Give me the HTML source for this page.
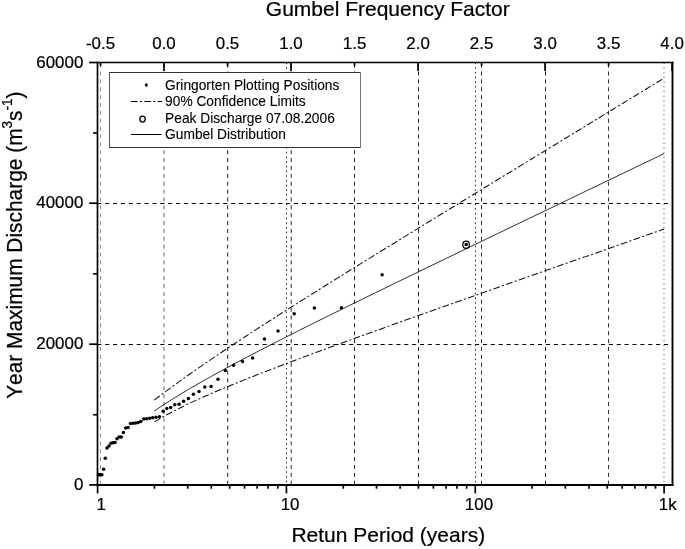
<!DOCTYPE html>
<html><head><meta charset="utf-8"><style>
html,body{margin:0;padding:0;background:#fff;}
body{width:685px;height:549px;overflow:hidden;}
svg{display:block;}
</style></head><body>
<svg width="685" height="549" viewBox="0 0 685 549" font-family="Liberation Sans, Arial, sans-serif">
<style>text{stroke:#000;stroke-width:0.22px;}</style>
<rect width="685" height="549" fill="#fff"/>
<line x1="100.50" y1="62.5" x2="100.50" y2="484.9" stroke="#8c8c8c" stroke-width="1" stroke-dasharray="4.1 3.77" stroke-dashoffset="-1.1"/>
<line x1="164.00" y1="62.5" x2="164.00" y2="484.9" stroke="#666" stroke-width="1" stroke-dasharray="4.1 3.77" stroke-dashoffset="-1.1"/>
<line x1="227.70" y1="62.5" x2="227.70" y2="484.9" stroke="#222" stroke-width="1" stroke-dasharray="4.1 3.77" stroke-dashoffset="-1.1"/>
<line x1="291.20" y1="62.5" x2="291.20" y2="484.9" stroke="#2a2a2a" stroke-width="1" stroke-dasharray="4.1 3.77" stroke-dashoffset="-1.1"/>
<line x1="354.50" y1="62.5" x2="354.50" y2="484.9" stroke="#2a2a2a" stroke-width="1" stroke-dasharray="4.1 3.77" stroke-dashoffset="-1.1"/>
<line x1="418.50" y1="62.5" x2="418.50" y2="484.9" stroke="#222" stroke-width="1" stroke-dasharray="4.1 3.77" stroke-dashoffset="-1.1"/>
<line x1="481.50" y1="62.5" x2="481.50" y2="484.9" stroke="#333" stroke-width="1" stroke-dasharray="4.1 3.77" stroke-dashoffset="-1.1"/>
<line x1="545.50" y1="62.5" x2="545.50" y2="484.9" stroke="#222" stroke-width="1" stroke-dasharray="4.1 3.77" stroke-dashoffset="-1.1"/>
<line x1="608.50" y1="62.5" x2="608.50" y2="484.9" stroke="#333" stroke-width="1" stroke-dasharray="4.1 3.77" stroke-dashoffset="-1.1"/>
<line x1="286.50" y1="62.5" x2="286.50" y2="484.9" stroke="#222" stroke-width="1" stroke-dasharray="1.5 3.2"/>
<line x1="475.50" y1="62.5" x2="475.50" y2="484.9" stroke="#222" stroke-width="1" stroke-dasharray="1.5 3.2"/>
<line x1="664.00" y1="62.5" x2="664.00" y2="484.9" stroke="#777" stroke-width="1" stroke-dasharray="1.5 3.2"/>
<line x1="97.3" y1="203.5" x2="668" y2="203.5" stroke="#000" stroke-width="1" stroke-dasharray="4.1 3.77"/>
<line x1="97.3" y1="344.5" x2="668" y2="344.5" stroke="#000" stroke-width="1" stroke-dasharray="4.1 3.77"/>
<polyline points="154.44,410.98 156.57,409.52 158.69,408.08 160.81,406.66 162.94,405.25 165.06,403.87 167.18,402.49 169.31,401.14 171.43,399.79 173.56,398.46 175.68,397.14 177.80,395.83 179.93,394.54 182.05,393.25 184.17,391.97 186.30,390.71 188.42,389.45 190.54,388.20 192.67,386.96 194.79,385.73 196.91,384.50 199.04,383.28 201.16,382.07 203.28,380.86 205.41,379.66 207.53,378.47 209.66,377.28 211.78,376.10 213.90,374.92 216.03,373.75 218.15,372.59 220.27,371.42 222.40,370.27 224.52,369.11 226.64,367.96 228.77,366.82 230.89,365.68 233.01,364.54 235.14,363.41 237.26,362.28 239.38,361.15 241.51,360.03 243.63,358.90 245.76,357.79 247.88,356.67 250.00,355.56 252.13,354.45 254.25,353.35 256.37,352.24 258.50,351.14 260.62,350.04 262.74,348.94 264.87,347.85 266.99,346.76 269.11,345.67 271.24,344.58 273.36,343.49 275.48,342.41 277.61,341.33 279.73,340.25 281.86,339.17 283.98,338.09 286.10,337.01 288.23,335.94 290.35,334.87 292.47,333.80 294.60,332.73 296.72,331.66 298.84,330.59 300.97,329.53 303.09,328.46 305.21,327.40 307.34,326.34 309.46,325.28 311.58,324.22 313.71,323.16 315.83,322.10 317.96,321.05 320.08,319.99 322.20,318.94 324.33,317.88 326.45,316.83 328.57,315.78 330.70,314.73 332.82,313.68 334.94,312.63 337.07,311.58 339.19,310.53 341.31,309.49 343.44,308.44 345.56,307.40 347.68,306.35 349.81,305.31 351.93,304.27 354.06,303.22 356.18,302.18 358.30,301.14 360.43,300.10 362.55,299.06 364.67,298.02 366.80,296.98 368.92,295.94 371.04,294.90 373.17,293.87 375.29,292.83 377.41,291.79 379.54,290.76 381.66,289.72 383.78,288.69 385.91,287.65 388.03,286.62 390.16,285.58 392.28,284.55 394.40,283.52 396.53,282.49 398.65,281.45 400.77,280.42 402.90,279.39 405.02,278.36 407.14,277.33 409.27,276.30 411.39,275.27 413.51,274.24 415.64,273.21 417.76,272.18 419.88,271.15 422.01,270.12 424.13,269.09 426.25,268.06 428.38,267.03 430.50,266.00 432.63,264.98 434.75,263.95 436.87,262.92 439.00,261.90 441.12,260.87 443.24,259.84 445.37,258.82 447.49,257.79 449.61,256.76 451.74,255.74 453.86,254.71 455.98,253.69 458.11,252.66 460.23,251.64 462.35,250.61 464.48,249.59 466.60,248.56 468.73,247.54 470.85,246.51 472.97,245.49 475.10,244.46 477.22,243.44 479.34,242.42 481.47,241.39 483.59,240.37 485.71,239.34 487.84,238.32 489.96,237.30 492.08,236.27 494.21,235.25 496.33,234.23 498.45,233.21 500.58,232.18 502.70,231.16 504.83,230.14 506.95,229.12 509.07,228.09 511.20,227.07 513.32,226.05 515.44,225.03 517.57,224.00 519.69,222.98 521.81,221.96 523.94,220.94 526.06,219.92 528.18,218.90 530.31,217.87 532.43,216.85 534.55,215.83 536.68,214.81 538.80,213.79 540.93,212.77 543.05,211.75 545.17,210.72 547.30,209.70 549.42,208.68 551.54,207.66 553.67,206.64 555.79,205.62 557.91,204.60 560.04,203.58 562.16,202.56 564.28,201.54 566.41,200.52 568.53,199.50 570.65,198.47 572.78,197.45 574.90,196.43 577.03,195.41 579.15,194.39 581.27,193.37 583.40,192.35 585.52,191.33 587.64,190.31 589.77,189.29 591.89,188.27 594.01,187.25 596.14,186.23 598.26,185.21 600.38,184.19 602.51,183.17 604.63,182.15 606.75,181.13 608.88,180.11 611.00,179.09 613.13,178.07 615.25,177.05 617.37,176.03 619.50,175.01 621.62,173.99 623.74,172.97 625.87,171.95 627.99,170.93 630.11,169.91 632.24,168.89 634.36,167.87 636.48,166.85 638.61,165.83 640.73,164.81 642.85,163.79 644.98,162.78 647.10,161.76 649.23,160.74 651.35,159.72 653.47,158.70 655.60,157.68 657.72,156.66 659.84,155.64 661.97,154.62 664.09,153.60" fill="none" stroke="#1a1a1a" stroke-width="0.95"/>
<polyline points="154.44,400.03 156.57,398.40 158.69,396.78 160.81,395.17 162.94,393.58 165.06,391.99 167.18,390.41 169.31,388.84 171.43,387.27 173.56,385.72 175.68,384.17 177.80,382.63 179.93,381.10 182.05,379.58 184.17,378.06 186.30,376.55 188.42,375.05 190.54,373.55 192.67,372.06 194.79,370.57 196.91,369.09 199.04,367.62 201.16,366.15 203.28,364.69 205.41,363.23 207.53,361.78 209.66,360.33 211.78,358.88 213.90,357.44 216.03,356.01 218.15,354.57 220.27,353.15 222.40,351.72 224.52,350.30 226.64,348.89 228.77,347.48 230.89,346.07 233.01,344.66 235.14,343.26 237.26,341.86 239.38,340.46 241.51,339.07 243.63,337.68 245.76,336.29 247.88,334.91 250.00,333.53 252.13,332.15 254.25,330.77 256.37,329.39 258.50,328.02 260.62,326.65 262.74,325.28 264.87,323.92 266.99,322.55 269.11,321.19 271.24,319.83 273.36,318.47 275.48,317.12 277.61,315.76 279.73,314.41 281.86,313.06 283.98,311.71 286.10,310.36 288.23,309.01 290.35,307.67 292.47,306.33 294.60,304.98 296.72,303.64 298.84,302.30 300.97,300.97 303.09,299.63 305.21,298.29 307.34,296.96 309.46,295.63 311.58,294.29 313.71,292.96 315.83,291.63 317.96,290.30 320.08,288.97 322.20,287.65 324.33,286.32 326.45,285.00 328.57,283.67 330.70,282.35 332.82,281.03 334.94,279.70 337.07,278.38 339.19,277.06 341.31,275.74 343.44,274.42 345.56,273.10 347.68,271.79 349.81,270.47 351.93,269.15 354.06,267.84 356.18,266.52 358.30,265.21 360.43,263.89 362.55,262.58 364.67,261.27 366.80,259.96 368.92,258.64 371.04,257.33 373.17,256.02 375.29,254.71 377.41,253.40 379.54,252.09 381.66,250.78 383.78,249.48 385.91,248.17 388.03,246.86 390.16,245.55 392.28,244.25 394.40,242.94 396.53,241.63 398.65,240.33 400.77,239.02 402.90,237.72 405.02,236.41 407.14,235.11 409.27,233.80 411.39,232.50 413.51,231.19 415.64,229.89 417.76,228.59 419.88,227.28 422.01,225.98 424.13,224.68 426.25,223.37 428.38,222.07 430.50,220.77 432.63,219.47 434.75,218.17 436.87,216.87 439.00,215.57 441.12,214.26 443.24,212.96 445.37,211.66 447.49,210.36 449.61,209.06 451.74,207.76 453.86,206.46 455.98,205.16 458.11,203.86 460.23,202.56 462.35,201.26 464.48,199.96 466.60,198.67 468.73,197.37 470.85,196.07 472.97,194.77 475.10,193.47 477.22,192.17 479.34,190.87 481.47,189.58 483.59,188.28 485.71,186.98 487.84,185.68 489.96,184.38 492.08,183.09 494.21,181.79 496.33,180.49 498.45,179.19 500.58,177.90 502.70,176.60 504.83,175.30 506.95,174.00 509.07,172.71 511.20,171.41 513.32,170.11 515.44,168.82 517.57,167.52 519.69,166.22 521.81,164.92 523.94,163.63 526.06,162.33 528.18,161.03 530.31,159.74 532.43,158.44 534.55,157.15 536.68,155.85 538.80,154.55 540.93,153.26 543.05,151.96 545.17,150.66 547.30,149.37 549.42,148.07 551.54,146.77 553.67,145.48 555.79,144.18 557.91,142.89 560.04,141.59 562.16,140.29 564.28,139.00 566.41,137.70 568.53,136.41 570.65,135.11 572.78,133.81 574.90,132.52 577.03,131.22 579.15,129.93 581.27,128.63 583.40,127.33 585.52,126.04 587.64,124.74 589.77,123.45 591.89,122.15 594.01,120.86 596.14,119.56 598.26,118.26 600.38,116.97 602.51,115.67 604.63,114.38 606.75,113.08 608.88,111.79 611.00,110.49 613.13,109.19 615.25,107.90 617.37,106.60 619.50,105.31 621.62,104.01 623.74,102.72 625.87,101.42 627.99,100.13 630.11,98.83 632.24,97.53 634.36,96.24 636.48,94.94 638.61,93.65 640.73,92.35 642.85,91.06 644.98,89.76 647.10,88.46 649.23,87.17 651.35,85.87 653.47,84.58 655.60,83.28 657.72,81.99 659.84,80.69 661.97,79.40 664.09,78.10" fill="none" stroke="#111" stroke-width="1.05" stroke-dasharray="6.77 2.32 2.01 2.4"/>
<polyline points="154.44,421.92 156.57,420.63 158.69,419.37 160.81,418.14 162.94,416.93 165.06,415.74 167.18,414.58 169.31,413.43 171.43,412.31 173.56,411.20 175.68,410.11 177.80,409.03 179.93,407.97 182.05,406.92 184.17,405.89 186.30,404.86 188.42,403.85 190.54,402.85 192.67,401.86 194.79,400.88 196.91,399.90 199.04,398.94 201.16,397.99 203.28,397.04 205.41,396.10 207.53,395.17 209.66,394.24 211.78,393.32 213.90,392.41 216.03,391.50 218.15,390.60 220.27,389.70 222.40,388.81 224.52,387.92 226.64,387.04 228.77,386.16 230.89,385.29 233.01,384.42 235.14,383.55 237.26,382.69 239.38,381.83 241.51,380.98 243.63,380.13 245.76,379.28 247.88,378.44 250.00,377.60 252.13,376.76 254.25,375.92 256.37,375.09 258.50,374.26 260.62,373.43 262.74,372.61 264.87,371.78 266.99,370.96 269.11,370.14 271.24,369.33 273.36,368.51 275.48,367.70 277.61,366.89 279.73,366.08 281.86,365.28 283.98,364.47 286.10,363.67 288.23,362.87 290.35,362.07 292.47,361.27 294.60,360.47 296.72,359.67 298.84,358.88 300.97,358.09 303.09,357.30 305.21,356.51 307.34,355.72 309.46,354.93 311.58,354.14 313.71,353.36 315.83,352.57 317.96,351.79 320.08,351.01 322.20,350.22 324.33,349.44 326.45,348.67 328.57,347.89 330.70,347.11 332.82,346.33 334.94,345.56 337.07,344.78 339.19,344.01 341.31,343.23 343.44,342.46 345.56,341.69 347.68,340.92 349.81,340.15 351.93,339.38 354.06,338.61 356.18,337.84 358.30,337.07 360.43,336.30 362.55,335.54 364.67,334.77 366.80,334.01 368.92,333.24 371.04,332.48 373.17,331.71 375.29,330.95 377.41,330.19 379.54,329.42 381.66,328.66 383.78,327.90 385.91,327.14 388.03,326.38 390.16,325.62 392.28,324.86 394.40,324.10 396.53,323.34 398.65,322.58 400.77,321.82 402.90,321.06 405.02,320.31 407.14,319.55 409.27,318.79 411.39,318.04 413.51,317.28 415.64,316.52 417.76,315.77 419.88,315.01 422.01,314.26 424.13,313.50 426.25,312.75 428.38,311.99 430.50,311.24 432.63,310.49 434.75,309.73 436.87,308.98 439.00,308.23 441.12,307.47 443.24,306.72 445.37,305.97 447.49,305.22 449.61,304.46 451.74,303.71 453.86,302.96 455.98,302.21 458.11,301.46 460.23,300.71 462.35,299.96 464.48,299.21 466.60,298.46 468.73,297.71 470.85,296.96 472.97,296.21 475.10,295.46 477.22,294.71 479.34,293.96 481.47,293.21 483.59,292.46 485.71,291.71 487.84,290.96 489.96,290.21 492.08,289.46 494.21,288.71 496.33,287.97 498.45,287.22 500.58,286.47 502.70,285.72 504.83,284.97 506.95,284.23 509.07,283.48 511.20,282.73 513.32,281.98 515.44,281.24 517.57,280.49 519.69,279.74 521.81,279.00 523.94,278.25 526.06,277.50 528.18,276.76 530.31,276.01 532.43,275.26 534.55,274.52 536.68,273.77 538.80,273.02 540.93,272.28 543.05,271.53 545.17,270.79 547.30,270.04 549.42,269.29 551.54,268.55 553.67,267.80 555.79,267.06 557.91,266.31 560.04,265.57 562.16,264.82 564.28,264.07 566.41,263.33 568.53,262.58 570.65,261.84 572.78,261.09 574.90,260.35 577.03,259.60 579.15,258.86 581.27,258.11 583.40,257.37 585.52,256.62 587.64,255.88 589.77,255.14 591.89,254.39 594.01,253.65 596.14,252.90 598.26,252.16 600.38,251.41 602.51,250.67 604.63,249.92 606.75,249.18 608.88,248.44 611.00,247.69 613.13,246.95 615.25,246.20 617.37,245.46 619.50,244.72 621.62,243.97 623.74,243.23 625.87,242.48 627.99,241.74 630.11,241.00 632.24,240.25 634.36,239.51 636.48,238.76 638.61,238.02 640.73,237.28 642.85,236.53 644.98,235.79 647.10,235.05 649.23,234.30 651.35,233.56 653.47,232.82 655.60,232.07 657.72,231.33 659.84,230.59 661.97,229.84 664.09,229.10" fill="none" stroke="#111" stroke-width="1.05" stroke-dasharray="6.77 2.32 2.01 2.4"/>
<circle cx="466.2" cy="244.5" r="1.75" fill="#000"/>
<circle cx="382.1" cy="274.8" r="1.75" fill="#000"/>
<circle cx="341.5" cy="307.7" r="1.75" fill="#000"/>
<circle cx="314.4" cy="307.9" r="1.75" fill="#000"/>
<circle cx="294.2" cy="313.8" r="1.75" fill="#000"/>
<circle cx="278.0" cy="331.1" r="1.75" fill="#000"/>
<circle cx="264.5" cy="338.9" r="1.75" fill="#000"/>
<circle cx="252.6" cy="358" r="1.75" fill="#000"/>
<circle cx="242.5" cy="361.5" r="1.75" fill="#000"/>
<circle cx="233.5" cy="365.3" r="1.75" fill="#000"/>
<circle cx="225.3" cy="370.5" r="1.75" fill="#000"/>
<circle cx="218.0" cy="379.3" r="1.75" fill="#000"/>
<circle cx="211.1" cy="386.4" r="1.75" fill="#000"/>
<circle cx="204.8" cy="386.9" r="1.75" fill="#000"/>
<circle cx="199.0" cy="391.6" r="1.75" fill="#000"/>
<circle cx="193.4" cy="394.2" r="1.75" fill="#000"/>
<circle cx="188.4" cy="398.4" r="1.75" fill="#000"/>
<circle cx="183.6" cy="401.3" r="1.75" fill="#000"/>
<circle cx="179.1" cy="404.2" r="1.75" fill="#000"/>
<circle cx="174.8" cy="404.8" r="1.75" fill="#000"/>
<circle cx="170.7" cy="407.4" r="1.75" fill="#000"/>
<circle cx="166.8" cy="408.5" r="1.75" fill="#000"/>
<circle cx="163.2" cy="411.3" r="1.75" fill="#000"/>
<circle cx="159.4" cy="416.7" r="1.75" fill="#000"/>
<circle cx="156.0" cy="417.2" r="1.75" fill="#000"/>
<circle cx="152.7" cy="417.7" r="1.75" fill="#000"/>
<circle cx="149.6" cy="418.2" r="1.75" fill="#000"/>
<circle cx="146.5" cy="418.8" r="1.75" fill="#000"/>
<circle cx="143.8" cy="418.9" r="1.75" fill="#000"/>
<circle cx="140.8" cy="421.5" r="1.75" fill="#000"/>
<circle cx="138.2" cy="422.5" r="1.75" fill="#000"/>
<circle cx="135.6" cy="423.0" r="1.75" fill="#000"/>
<circle cx="133.1" cy="423.3" r="1.75" fill="#000"/>
<circle cx="130.5" cy="423.6" r="1.75" fill="#000"/>
<circle cx="128.1" cy="427.4" r="1.75" fill="#000"/>
<circle cx="125.7" cy="427.9" r="1.75" fill="#000"/>
<circle cx="123.4" cy="432.4" r="1.75" fill="#000"/>
<circle cx="121.3" cy="437.1" r="1.75" fill="#000"/>
<circle cx="119.1" cy="437.1" r="1.75" fill="#000"/>
<circle cx="117.0" cy="438.8" r="1.75" fill="#000"/>
<circle cx="115.0" cy="442.4" r="1.75" fill="#000"/>
<circle cx="113.0" cy="442.8" r="1.75" fill="#000"/>
<circle cx="111.0" cy="443.3" r="1.75" fill="#000"/>
<circle cx="109.0" cy="445.9" r="1.75" fill="#000"/>
<circle cx="107.0" cy="448" r="1.75" fill="#000"/>
<circle cx="105.3" cy="458.2" r="1.75" fill="#000"/>
<circle cx="103.6" cy="469.2" r="1.75" fill="#000"/>
<circle cx="101.9" cy="474.8" r="1.75" fill="#000"/>
<circle cx="100.2" cy="474.8" r="1.75" fill="#000"/>
<circle cx="98.6" cy="474.8" r="1.75" fill="#000"/>
<ellipse cx="466.1" cy="244.7" rx="3.3" ry="3.6" fill="none" stroke="#000" stroke-width="1.25"/>
<line x1="97.5" y1="61.7" x2="97.5" y2="485.9" stroke="#000" stroke-width="1.7"/>
<line x1="672.5" y1="61.7" x2="672.5" y2="485.9" stroke="#000" stroke-width="1.9"/>
<line x1="97.5" y1="62.5" x2="673.4" y2="62.5" stroke="#000" stroke-width="1.7"/>
<line x1="97.5" y1="484.9" x2="673.4" y2="484.9" stroke="#000" stroke-width="2"/>
<line x1="89.2" y1="484.9" x2="97.5" y2="484.9" stroke="#000" stroke-width="1.7"/>
<line x1="89.2" y1="344.2" x2="97.5" y2="344.2" stroke="#000" stroke-width="1.7"/>
<line x1="89.2" y1="203.2" x2="97.5" y2="203.2" stroke="#000" stroke-width="1.7"/>
<line x1="89.2" y1="62.5" x2="97.5" y2="62.5" stroke="#000" stroke-width="1.7"/>
<line x1="93.1" y1="414.75" x2="97.5" y2="414.75" stroke="#000" stroke-width="1.7"/>
<line x1="93.1" y1="273.85" x2="97.5" y2="273.85" stroke="#000" stroke-width="1.7"/>
<line x1="93.1" y1="132.95" x2="97.5" y2="132.95" stroke="#000" stroke-width="1.7"/>
<line x1="97.60" y1="484.9" x2="97.60" y2="493.40" stroke="#000" stroke-width="1.7"/>
<line x1="154.44" y1="484.9" x2="154.44" y2="488.70" stroke="#000" stroke-width="1.7"/>
<line x1="187.69" y1="484.9" x2="187.69" y2="488.70" stroke="#000" stroke-width="1.7"/>
<line x1="211.29" y1="484.9" x2="211.29" y2="488.70" stroke="#000" stroke-width="1.7"/>
<line x1="229.59" y1="484.9" x2="229.59" y2="488.70" stroke="#000" stroke-width="1.7"/>
<line x1="244.54" y1="484.9" x2="244.54" y2="488.70" stroke="#000" stroke-width="1.7"/>
<line x1="257.18" y1="484.9" x2="257.18" y2="488.70" stroke="#000" stroke-width="1.7"/>
<line x1="268.13" y1="484.9" x2="268.13" y2="488.70" stroke="#000" stroke-width="1.7"/>
<line x1="277.79" y1="484.9" x2="277.79" y2="488.70" stroke="#000" stroke-width="1.7"/>
<line x1="286.43" y1="484.9" x2="286.43" y2="493.40" stroke="#000" stroke-width="1.7"/>
<line x1="343.27" y1="484.9" x2="343.27" y2="488.70" stroke="#000" stroke-width="1.7"/>
<line x1="376.52" y1="484.9" x2="376.52" y2="488.70" stroke="#000" stroke-width="1.7"/>
<line x1="400.12" y1="484.9" x2="400.12" y2="488.70" stroke="#000" stroke-width="1.7"/>
<line x1="418.42" y1="484.9" x2="418.42" y2="488.70" stroke="#000" stroke-width="1.7"/>
<line x1="433.37" y1="484.9" x2="433.37" y2="488.70" stroke="#000" stroke-width="1.7"/>
<line x1="446.01" y1="484.9" x2="446.01" y2="488.70" stroke="#000" stroke-width="1.7"/>
<line x1="456.96" y1="484.9" x2="456.96" y2="488.70" stroke="#000" stroke-width="1.7"/>
<line x1="466.62" y1="484.9" x2="466.62" y2="488.70" stroke="#000" stroke-width="1.7"/>
<line x1="475.26" y1="484.9" x2="475.26" y2="493.40" stroke="#000" stroke-width="1.7"/>
<line x1="532.10" y1="484.9" x2="532.10" y2="488.70" stroke="#000" stroke-width="1.7"/>
<line x1="565.35" y1="484.9" x2="565.35" y2="488.70" stroke="#000" stroke-width="1.7"/>
<line x1="588.95" y1="484.9" x2="588.95" y2="488.70" stroke="#000" stroke-width="1.7"/>
<line x1="607.25" y1="484.9" x2="607.25" y2="488.70" stroke="#000" stroke-width="1.7"/>
<line x1="622.20" y1="484.9" x2="622.20" y2="488.70" stroke="#000" stroke-width="1.7"/>
<line x1="634.84" y1="484.9" x2="634.84" y2="488.70" stroke="#000" stroke-width="1.7"/>
<line x1="645.79" y1="484.9" x2="645.79" y2="488.70" stroke="#000" stroke-width="1.7"/>
<line x1="655.45" y1="484.9" x2="655.45" y2="488.70" stroke="#000" stroke-width="1.7"/>
<line x1="664.09" y1="484.9" x2="664.09" y2="493.40" stroke="#000" stroke-width="1.7"/>
<line x1="100.50" y1="62.5" x2="100.50" y2="66.10" stroke="#000" stroke-width="1.7"/>
<line x1="164.01" y1="62.5" x2="164.01" y2="71.10" stroke="#000" stroke-width="1.7"/>
<line x1="227.52" y1="62.5" x2="227.52" y2="66.10" stroke="#000" stroke-width="1.7"/>
<line x1="291.03" y1="62.5" x2="291.03" y2="71.10" stroke="#000" stroke-width="1.7"/>
<line x1="354.54" y1="62.5" x2="354.54" y2="66.10" stroke="#000" stroke-width="1.7"/>
<line x1="418.05" y1="62.5" x2="418.05" y2="71.10" stroke="#000" stroke-width="1.7"/>
<line x1="481.56" y1="62.5" x2="481.56" y2="66.10" stroke="#000" stroke-width="1.7"/>
<line x1="545.07" y1="62.5" x2="545.07" y2="71.10" stroke="#000" stroke-width="1.7"/>
<line x1="608.58" y1="62.5" x2="608.58" y2="66.10" stroke="#000" stroke-width="1.7"/>
<line x1="672.09" y1="62.5" x2="672.09" y2="71.10" stroke="#000" stroke-width="1.7"/>
<g font-size="16.9">
<text x="100.50" y="49.1" text-anchor="middle">-0.5</text>
<text x="164.01" y="49.1" text-anchor="middle">0.0</text>
<text x="227.52" y="49.1" text-anchor="middle">0.5</text>
<text x="291.03" y="49.1" text-anchor="middle">1.0</text>
<text x="354.54" y="49.1" text-anchor="middle">1.5</text>
<text x="418.05" y="49.1" text-anchor="middle">2.0</text>
<text x="481.56" y="49.1" text-anchor="middle">2.5</text>
<text x="545.07" y="49.1" text-anchor="middle">3.0</text>
<text x="608.58" y="49.1" text-anchor="middle">3.5</text>
<text x="672.09" y="49.1" text-anchor="middle">4.0</text>
<text x="101.30" y="510.3" text-anchor="middle">1</text>
<text x="290.13" y="510.3" text-anchor="middle">10</text>
<text x="478.96" y="510.3" text-anchor="middle">100</text>
<text x="667.79" y="510.3" text-anchor="middle">1k</text>
<text x="83.3" y="67.70" text-anchor="end">60000</text>
<text x="83.3" y="208.40" text-anchor="end">40000</text>
<text x="83.3" y="349.40" text-anchor="end">20000</text>
<text x="83.3" y="490.10" text-anchor="end">0</text>
</g>
<text x="387.8" y="16.4" font-size="21" text-anchor="middle">Gumbel Frequency Factor</text>
<text x="388.3" y="542.4" font-size="21" text-anchor="middle">Retun Period (years)</text>
<text transform="translate(21.5 245.2) rotate(-90) scale(1 1.07)" font-size="20.9" text-anchor="middle" style="font-kerning:none">Year Maximum Discharge (m<tspan font-size="13.5" dy="-9.1">3</tspan><tspan dy="9.1">s</tspan><tspan font-size="13.5" dy="-9.1">-1</tspan><tspan dy="9.1">)</tspan></text>
<rect x="109.5" y="72.5" width="251" height="75" fill="#fff" stroke="none"/>
<path d="M109 72.5H361M109 147.5H361" stroke="#333" stroke-width="1"/>
<path d="M109.5 72V148" stroke="#555" stroke-width="1"/>
<path d="M360.5 72V148" stroke="#777" stroke-width="1"/>
<text x="165.1" y="89.9" font-size="13.75" style="stroke-width:0.1px">Gringorten Plotting Positions</text>
<text x="165.1" y="106.3" font-size="13.75" style="stroke-width:0.1px">90% Confidence Limits</text>
<text x="165.1" y="122.7" font-size="13.75" style="stroke-width:0.1px">Peak Discharge 07.08.2006</text>
<text x="165.1" y="139.0" font-size="13.75" style="stroke-width:0.1px">Gumbel Distribution</text>
<ellipse cx="146.3" cy="84.9" rx="1.5" ry="1.75" fill="#000"/>
<line x1="130.9" y1="101.5" x2="162" y2="101.5" stroke="#000" stroke-width="1.2" stroke-dasharray="6.7 2.3 2 2.4"/>
<ellipse cx="142.55" cy="119.05" rx="2.7" ry="3.0" fill="none" stroke="#000" stroke-width="1.3"/>
<line x1="131" y1="134.5" x2="161.6" y2="134.5" stroke="#000" stroke-width="1"/>
</svg>
</body></html>
